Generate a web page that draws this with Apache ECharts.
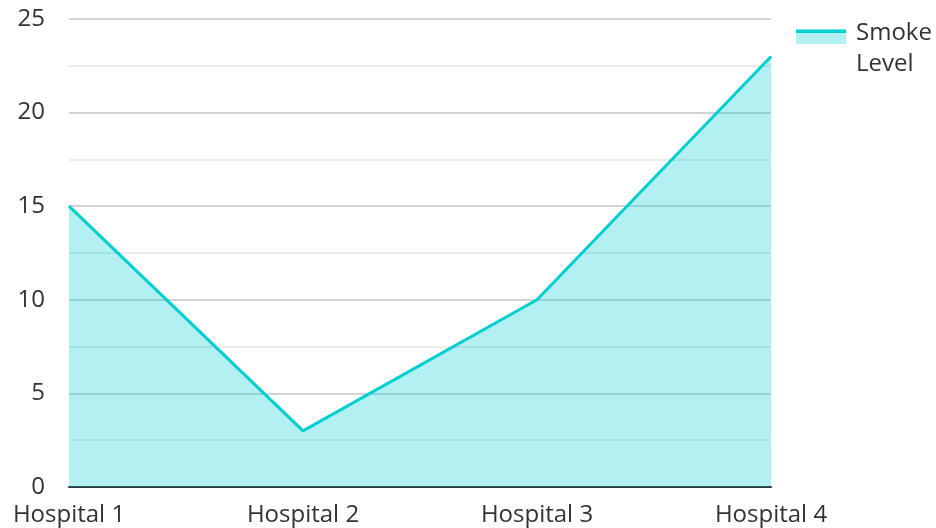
<!DOCTYPE html>
<html><head><meta charset="utf-8">
<script src="https://cdn.jsdelivr.net/npm/echarts@6/dist/echarts.min.js"></script>
<style>html,body{margin:0;padding:0;background:#fff}#c{width:936px;height:528px}</style>
</head><body><div id="c"></div>
<script>
var categories = ['Hospital 1', 'Hospital 2', 'Hospital 3', 'Hospital 4'];
var smokeLevel = [15, 3, 10, 23];
var seriesName = 'Smoke Level';
var chart = echarts.init(document.getElementById('c'));
var font = '"Open Sans", sans-serif';
chart.setOption({
  animation: false,
  textStyle: { fontFamily: font },
  grid: { left: 69, right: 165, top: 19, bottom: 41, containLabel: false },
  legend: {
    left: 791, top: 13, orient: 'vertical',
    itemWidth: 50, itemHeight: 39, itemGap: 10,
    icon: 'rect',
    formatter: function (n) { return n.replace(' ', '\n'); },
    textStyle: { fontSize: 24, color: '#333', fontFamily: font, lineHeight: 31, padding: [0, 0, 0, 5] },
    data: [{ name: seriesName, itemStyle: { color: {
      type: 'linear', x: 0, y: 0, x2: 0, y2: 1,
      colorStops: [
        { offset: 0, color: '#00ced1' }, { offset: 0.1, color: '#00ced1' },
        { offset: 0.1, color: '#b2f0f1' }, { offset: 0.36, color: '#b2f0f1' },
        { offset: 0.36, color: 'rgba(255,255,255,0)' }, { offset: 1, color: 'rgba(255,255,255,0)' }
      ] } } }]
  },
  xAxis: {
    type: 'category', data: categories, boundaryGap: false,
    axisLine: { lineStyle: { color: '#333', width: 2 } },
    axisTick: { show: false },
    axisLabel: { fontSize: 24, color: '#333', margin: 16, fontFamily: font }
  },
  yAxis: {
    type: 'value', min: 0, max: 25, interval: 5,
    axisLine: { show: false }, axisTick: { show: false },
    axisLabel: { fontSize: 24, color: '#333', margin: 24, fontFamily: font },
    splitLine: { lineStyle: { color: '#c4c4c4', width: 1.5 } },
    minorTick: { show: false, splitNumber: 2 },
    minorSplitLine: { show: true, lineStyle: { color: '#e6e6e6', width: 1.5 } }
  },
  series: [{
    name: seriesName, type: 'line', data: smokeLevel,
    symbol: 'none', z: 1,
    lineStyle: { color: '#00ced1', width: 3 },
    itemStyle: { color: '#00ced1' },
    areaStyle: { color: '#00ced1', opacity: 0.3 }
  }]
});
</script></body></html>
